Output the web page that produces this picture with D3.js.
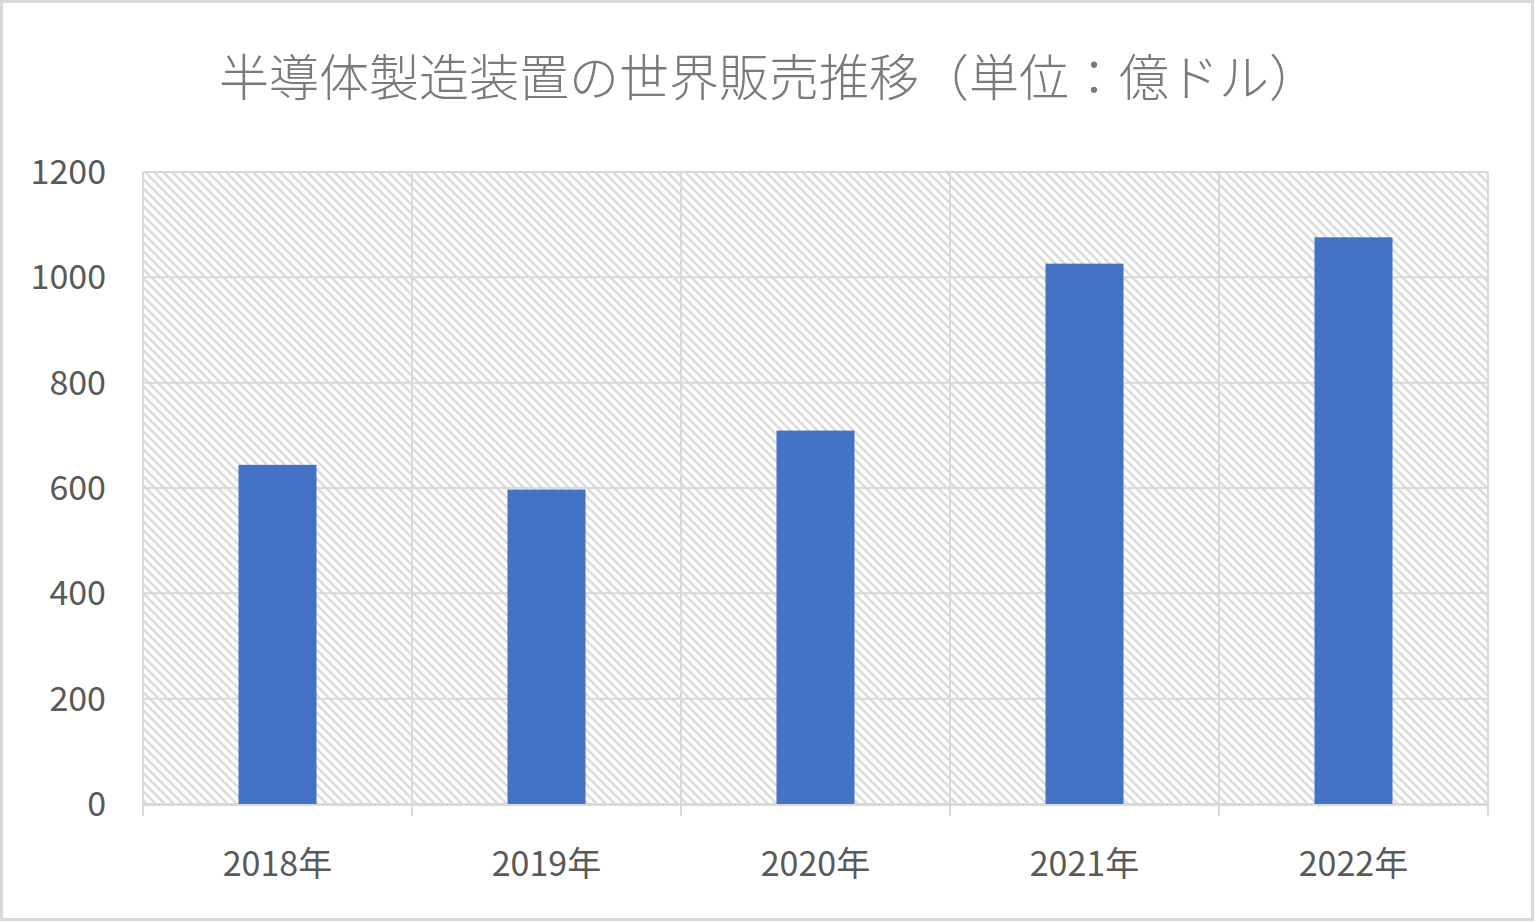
<!DOCTYPE html>
<html>
<head>
<meta charset="utf-8">
<script src="https://cdn.jsdelivr.net/npm/d3@7"></script>
<style>
  body { margin: 0; background: #fff; }
</style>
</head>
<body>
<svg id="chart"></svg>
<script>
// Data
let years = ["2018年", "2019年", "2020年", "2021年", "2022年"];
let sales = [644, 597, 709, 1026, 1076];
let yTicks = [0, 200, 400, 600, 800, 1000, 1200];
let title = "半導体製造装置の世界販売推移（単位：億ドル）";

// Colors
let barBlue = "#4472c4";
let gridGray = "#d9d9d9";
let textGray = "#595959";

let width = 1536;
let height = 923;
let font = "'Noto Sans CJK JP', 'Noto Sans', sans-serif";

let svg = d3.select("#chart")
  .attr("width", width)
  .attr("height", height);

// outer frame
svg.append("rect")
  .attr("x", 1.5)
  .attr("y", 1.5)
  .attr("width", 1531)
  .attr("height", 918)
  .attr("fill", "#fff")
  .attr("stroke", gridGray)
  .attr("stroke-width", 3);

// hatch pattern for the plot area
let pat = svg.append("defs").append("pattern")
  .attr("id", "hatch")
  .attr("patternUnits", "userSpaceOnUse")
  .attr("width", 9)
  .attr("height", 9);
pat.append("path")
  .attr("d", "M-2,-2 L11,11 M-2,7 L2,11 M7,-2 L11,2")
  .attr("stroke", "#dcdcdc")
  .attr("stroke-width", 2.6);

let x = d3.scaleBand()
  .domain(years)
  .range([143, 1488])
  .paddingInner(0.71)
  .paddingOuter(0.355);

let y = d3.scaleLinear()
  .domain([0, 1200])
  .range([804, 172]);

svg.append("rect")
  .attr("x", 143)
  .attr("y", y(1200))
  .attr("width", 1488 - 143)
  .attr("height", y(0) - y(1200))
  .attr("fill", "url(#hatch)");

// horizontal gridlines
svg.append("g")
  .selectAll("line")
  .data(yTicks)
  .join("line")
    .attr("x1", 143)
    .attr("x2", 1488)
    .attr("y1", d => y(d))
    .attr("y2", d => y(d))
    .attr("stroke", gridGray)
    .attr("stroke-width", 2);

// vertical gridlines at category boundaries
let step = x.step();
let bounds = d3.range(years.length + 1).map(i => 143 + i * step);
svg.append("g")
  .selectAll("line")
  .data(bounds)
  .join("line")
    .attr("x1", d => d)
    .attr("x2", d => d)
    .attr("y1", y(1200))
    .attr("y2", y(0))
    .attr("stroke", gridGray)
    .attr("stroke-width", 2);

// bars
svg.append("g")
  .selectAll("rect")
  .data(sales)
  .join("rect")
    .attr("x", (d, i) => x(years[i]))
    .attr("y", d => y(d))
    .attr("width", x.bandwidth())
    .attr("height", d => y(0) - y(d))
    .attr("fill", barBlue);

// x axis line + ticks
svg.append("line")
  .attr("x1", 143)
  .attr("x2", 1488)
  .attr("y1", y(0) + 1)
  .attr("y2", y(0) + 1)
  .attr("stroke", gridGray)
  .attr("stroke-width", 2);
svg.append("g")
  .selectAll("line")
  .data(bounds)
  .join("line")
    .attr("x1", d => d)
    .attr("x2", d => d)
    .attr("y1", y(0))
    .attr("y2", y(0) + 12)
    .attr("stroke", gridGray)
    .attr("stroke-width", 2);

// y labels
svg.append("g")
  .selectAll("text")
  .data(yTicks)
  .join("text")
    .attr("x", 106)
    .attr("y", d => y(d))
    .attr("dy", "0.35em")
    .attr("text-anchor", "end")
    .attr("font-family", font)
    .attr("font-size", 34)
    .attr("fill", textGray)
    .text(d => d);

// x labels
svg.append("g")
  .selectAll("text")
  .data(years)
  .join("text")
    .attr("x", d => x(d) + x.bandwidth() / 2)
    .attr("y", 876)
    .attr("text-anchor", "middle")
    .attr("font-family", font)
    .attr("font-size", 34)
    .attr("fill", textGray)
    .text(d => d);

// title
svg.append("text")
  .attr("x", 769)
  .attr("y", 96)
  .attr("text-anchor", "middle")
  .attr("font-family", font)
  .attr("font-size", 50)
  .attr("font-weight", 300)
  .attr("fill", "#7a7a7a")
  .text(title);
</script>
</body>
</html>
